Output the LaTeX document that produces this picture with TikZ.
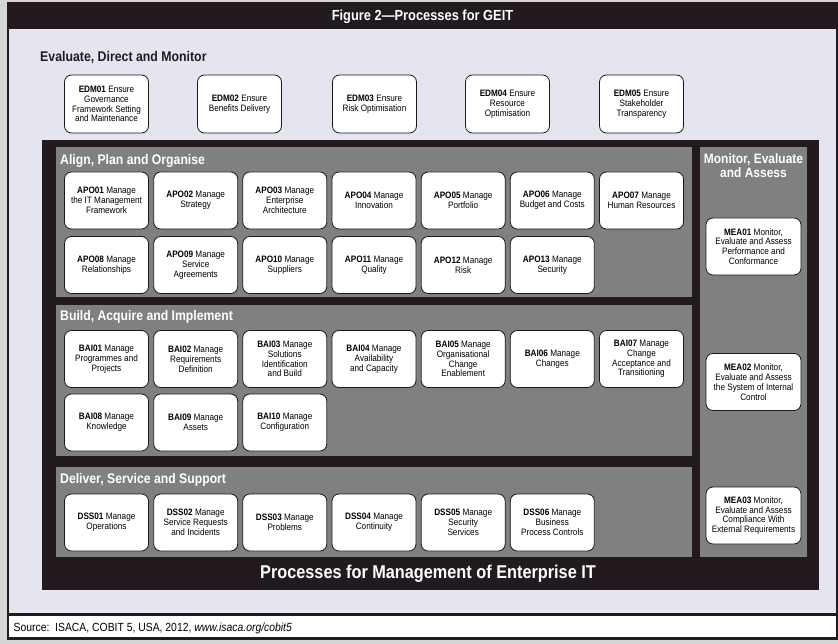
\documentclass[tikz,border=0pt]{standalone}
\usepackage{fontspec}
\setmainfont{Liberation Sans}[FakeStretch=0.88]
\definecolor{framedark}{RGB}{35,26,32}
\definecolor{panelgrey}{RGB}{128,128,128}
\definecolor{paper}{RGB}{229,229,239}
\definecolor{wall}{RGB}{214,214,214}
\tikzset{
  proc/.style={draw=black!90,fill=white,line width=0.8pt,rounded corners=7pt,
    minimum width=84pt,minimum height=57pt,align=center,inner sep=1pt,
    font=\fontsize{9.3}{9.8}\selectfont},
  meaproc/.style={proc,minimum width=95pt},
  sectitle/.style={anchor=base west,inner sep=0pt,text=white,
    font=\bfseries\fontsize{13.9}{14.5}\selectfont},
}
\begin{document}
\begin{tikzpicture}[x=1pt,y=-1pt]
		\useasboundingbox (0,0) rectangle (838,644);
		\fill[wall] (0,0) rectangle (838,644);
		\fill[framedark] (7,2) rectangle (838,640);
		\fill[paper] (9,29) rectangle (836,613);
		\fill[white] (9,616) rectangle (836,637);
		\node[anchor=base,inner sep=0pt,text=white,font=\bfseries\fontsize{14.6}{15}\selectfont] (figtitle) at (422.5,21) {Figure 2—Processes for GEIT};
		\node[sectitle,text=framedark,font=\bfseries\fontsize{14}{14.5}\selectfont] (edmtitle) at (40,61.5) {Evaluate, Direct and Monitor};
		% evaluate, direct and monitor
		\node[proc,minimum height=58pt] (edm1) at (106.5,104) {\textbf{EDM01} Ensure\\Governance\\Framework Setting\\and Maintenance};
		\node[proc,minimum height=58pt] (edm2) at (239.5,104) {\textbf{EDM02} Ensure\\Benefits Delivery};
		\node[proc,minimum height=58pt] (edm3) at (374.5,104) {\textbf{EDM03} Ensure\\Risk Optimisation};
		\node[proc,minimum height=58pt] (edm4) at (507.5,104) {\textbf{EDM04} Ensure\\Resource\\Optimisation};
		\node[proc,minimum height=58pt] (edm5) at (641.5,104) {\textbf{EDM05} Ensure\\Stakeholder\\Transparency};
		% management block
		\fill[framedark] (42,140) rectangle (819,590);
		\fill[panelgrey] (56,147) rectangle (692,297);
		\fill[panelgrey] (56,305) rectangle (692,456);
		\fill[panelgrey] (56,467) rectangle (692,557);
		\fill[panelgrey] (700,147) rectangle (807,557);
		\node[sectitle] (apotitle) at (60,164.5) {Align, Plan and Organise};
		\node[sectitle] (baititle) at (60,320.5) {Build, Acquire and Implement};
		\node[sectitle] (dsstitle) at (60,483.5) {Deliver, Service and Support};
		\node[anchor=north,inner sep=0pt,align=center,text=white,font=\bfseries\fontsize{13.6}{14.3}\selectfont] (meatitle) at (753.5,153.5) {Monitor, Evaluate\\and Assess};
		% align, plan and organise
		\node[proc] (apo1) at (106.5,200.5) {\textbf{APO01} Manage\\the IT Management\\Framework};
		\node[proc] (apo2) at (195.7,200.5) {\textbf{APO02} Manage\\Strategy};
		\node[proc] (apo3) at (284.8,200.5) {\textbf{APO03} Manage\\Enterprise\\Architecture};
		\node[proc] (apo4) at (374,200.5) {\textbf{APO04} Manage\\Innovation};
		\node[proc] (apo5) at (463.2,200.5) {\textbf{APO05} Manage\\Portfolio};
		\node[proc] (apo6) at (552.3,200.5) {\textbf{APO06} Manage\\Budget and Costs};
		\node[proc] (apo7) at (641.5,200.5) {\textbf{APO07} Manage\\Human Resources};
		\node[proc] (apo8) at (106.5,265) {\textbf{APO08} Manage\\Relationships};
		\node[proc] (apo9) at (195.7,265) {\textbf{APO09} Manage\\Service\\Agreements};
		\node[proc] (apo10) at (284.8,265) {\textbf{APO10} Manage\\Suppliers};
		\node[proc] (apo11) at (374,265) {\textbf{APO11} Manage\\Quality};
		\node[proc] (apo12) at (463.2,265) {\textbf{APO12} Manage\\Risk};
		\node[proc] (apo13) at (552.3,265) {\textbf{APO13} Manage\\Security};
		% build, acquire and implement
		\node[proc] (bai1) at (106.5,359) {\textbf{BAI01} Manage\\Programmes and\\Projects};
		\node[proc] (bai2) at (195.7,359) {\textbf{BAI02} Manage\\Requirements\\Definition};
		\node[proc] (bai3) at (284.8,359) {\textbf{BAI03} Manage\\Solutions\\Identification\\and Build};
		\node[proc] (bai4) at (374,359) {\textbf{BAI04} Manage\\Availability\\and Capacity};
		\node[proc] (bai5) at (463.2,359) {\textbf{BAI05} Manage\\Organisational\\Change\\Enablement};
		\node[proc] (bai6) at (552.3,359) {\textbf{BAI06} Manage\\Changes};
		\node[proc] (bai7) at (641.5,359) {\textbf{BAI07} Manage\\Change\\Acceptance and\\Transitioning};
		\node[proc] (bai8) at (106.5,422.5) {\textbf{BAI08} Manage\\Knowledge};
		\node[proc] (bai9) at (195.7,422.5) {\textbf{BAI09} Manage\\Assets};
		\node[proc] (bai10) at (284.8,422.5) {\textbf{BAI10} Manage\\Configuration};
		% deliver, service and support
		\node[proc] (dss1) at (106.5,522.5) {\textbf{DSS01} Manage\\Operations};
		\node[proc] (dss2) at (195.7,522.5) {\textbf{DSS02} Manage\\Service Requests\\and Incidents};
		\node[proc] (dss3) at (284.8,522.5) {\textbf{DSS03} Manage\\Problems};
		\node[proc] (dss4) at (374,522.5) {\textbf{DSS04} Manage\\Continuity};
		\node[proc] (dss5) at (463.2,522.5) {\textbf{DSS05} Manage\\Security\\Services};
		\node[proc] (dss6) at (552.3,522.5) {\textbf{DSS06} Manage\\Business\\Process Controls};
		% monitor, evaluate and assess
		\node[meaproc] (mea1) at (753.5,246.5) {\textbf{MEA01} Monitor,\\Evaluate and Assess\\Performance and\\Conformance};
		\node[meaproc] (mea2) at (753.5,382) {\textbf{MEA02} Monitor,\\Evaluate and Assess\\the System of Internal\\Control};
		\node[meaproc] (mea3) at (753.5,515.5) {\textbf{MEA03} Monitor,\\Evaluate and Assess\\Compliance With\\External Requirements};
		\node[anchor=base,inner sep=0pt,text=white,font=\bfseries\fontsize{18.5}{19}\selectfont] (mgmttitle) at (428,578) {Processes for Management of Enterprise IT};
		\node[anchor=base west,inner sep=0pt,font=\fontsize{11.8}{12}\selectfont] (source) at (13.5,631.5) {Source:\ \ ISACA, COBIT 5, USA, 2012, \textit{www.isaca.org/cobit5}};
		\end{tikzpicture}
\end{document}
